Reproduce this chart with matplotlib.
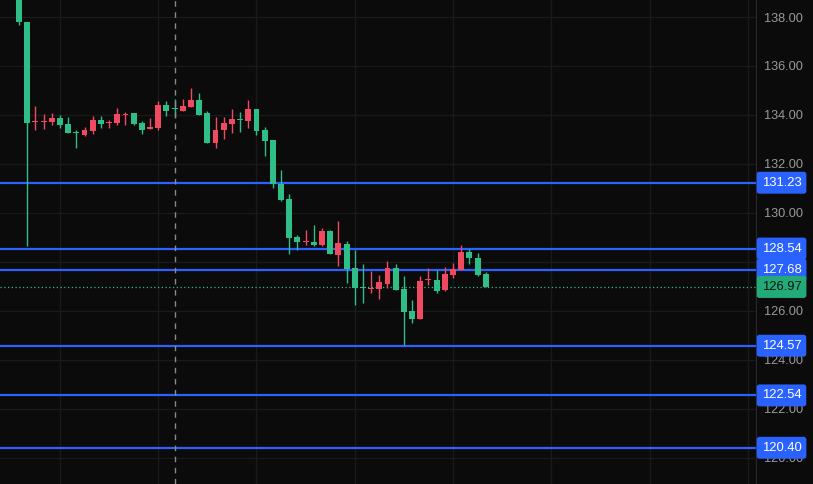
import numpy as np
import matplotlib
matplotlib.use("Agg")
import matplotlib.pyplot as plt

plt.rcParams['font.family'] = ['Liberation Sans', 'DejaVu Sans']

# OHLC candles
opens = [138.90, 137.80, 133.72, 133.72, 133.69, 133.86, 133.61, 133.29, 133.16, 133.33,
         133.78, 133.68, 133.68, 134.00, 134.06, 133.65, 133.41, 133.45, 134.39, 134.25,
         134.15, 134.31, 134.60, 134.07, 132.84, 133.37, 133.61, 133.80, 133.74, 134.23,
         133.37, 132.96, 131.16, 130.58, 129.02, 128.80, 128.82, 128.70, 129.27, 128.29,
         128.74, 127.75, 126.95, 126.87, 126.89, 127.10, 127.75, 126.89, 125.99, 125.66,
         127.24, 127.26, 126.85, 127.47, 127.67, 128.41, 128.16, 127.51]
highs = [139.20, 137.80, 134.35, 134.02, 134.07, 133.98, 133.90, 133.37, 133.49, 133.94,
         133.94, 133.78, 134.27, 134.10, 134.06, 133.74, 133.86, 134.56, 134.56, 134.64,
         134.64, 135.09, 134.89, 134.15, 133.90, 133.90, 134.23, 134.10, 134.60, 134.23,
         133.49, 132.96, 131.73, 130.75, 129.11, 129.31, 129.52, 129.39, 129.31, 129.68,
         128.86, 128.49, 127.92, 127.63, 127.47, 128.04, 127.92, 127.43, 126.44, 127.43,
         127.75, 127.67, 127.80, 127.96, 128.70, 128.53, 128.37, 127.59]
lows = [137.68, 128.66, 133.37, 133.41, 133.57, 133.45, 133.25, 132.63, 133.12, 133.20,
        133.45, 133.45, 133.57, 133.60, 133.57, 133.20, 133.41, 133.37, 133.94, 133.86,
        134.15, 134.31, 133.98, 132.84, 132.63, 133.00, 133.25, 133.29, 133.45, 133.16,
        132.34, 131.03, 130.50, 128.33, 128.49, 128.70, 128.66, 128.66, 128.33, 127.84,
        127.14, 126.24, 126.32, 126.73, 126.48, 126.93, 126.85, 124.60, 125.50, 125.66,
        127.06, 126.73, 126.81, 127.34, 127.67, 127.92, 127.43, 126.97]
closes = [137.80, 133.66, 133.76, 133.76, 133.86, 133.57, 133.25, 133.25, 133.37, 133.78,
          133.61, 133.70, 134.02, 134.02, 133.61, 133.37, 133.49, 134.39, 134.15, 134.23,
          134.35, 134.60, 133.98, 132.84, 133.37, 133.66, 133.82, 133.78, 134.23, 133.33,
          132.92, 131.16, 130.54, 128.98, 128.82, 128.84, 128.70, 129.27, 128.33, 128.78,
          127.71, 126.93, 126.91, 126.91, 127.18, 127.75, 126.85, 125.95, 125.66, 127.22,
          127.26, 126.81, 127.51, 127.71, 128.41, 128.16, 127.47, 126.97]

# horizontal levels
levels = [131.23, 128.54, 127.68, 124.57, 122.54, 120.40]
last_price = 126.97
crosshair_idx = 19
price_ticks = [120, 122, 124, 126, 128, 130, 132, 134, 136, 138]
grid_idx = [5, 17, 29, 41, 53, 65, 77, 89]

up_col = "#f04a60"
down_col = "#2fbd88"
bg = "#0b0b0b"
blue = "#2962ff"

fig = plt.figure(figsize=(8.13, 4.84), dpi=100, facecolor=bg)
ax = fig.add_axes([0, 0, 756 / 813, 1])
ax.set_facecolor(bg)

x = np.arange(len(opens))
o = np.array(opens)
c = np.array(closes)
cols = [up_col if cc >= oo else down_col for oo, cc in zip(o, c)]
bottom = np.minimum(o, c)
height = np.maximum(np.abs(c - o), 0.04)

ax.vlines(x, lows, highs, colors=cols, linewidth=1, zorder=3)
ax.bar(x, height, bottom=bottom, width=0.72, color=cols, zorder=4, linewidth=0)

# grid
for gy in price_ticks:
    ax.axhline(gy, color="#1a1a1a", linewidth=1, zorder=0)
for gx in grid_idx:
    ax.axvline(gx, color="#1a1a1a", linewidth=1, zorder=0)

# levels
for lv in levels:
    ax.axhline(lv, color=blue, linewidth=1.6, zorder=2)

# last price dotted line
ax.axhline(last_price, color=down_col, linewidth=0.9, linestyle=(0, (1, 2)), zorder=2)

# crosshair
ax.axvline(crosshair_idx, color="#8a8a8a", linewidth=1, linestyle=(0, (4, 4)), zorder=5)

ax.set_xlim(-2.32, 90)
ax.set_ylim(118.92, 138.695)

ax.yaxis.tick_right()
ax.set_yticks(price_ticks)
ax.set_yticklabels([f"{t:.2f}" for t in price_ticks])
ax.tick_params(axis="y", length=0, pad=6, labelsize=9.2, labelcolor="#9a9a9a")
ax.set_xticks([])
for s in ["top", "bottom", "left"]:
    ax.spines[s].set_visible(False)
ax.spines["right"].set_color("#2a2a2a")

tr = ax.get_yaxis_transform()
box = dict(boxstyle="round,pad=0.38,rounding_size=0.2", ec="none")
for lv in levels:
    ax.text(1.0075, lv, f"{lv:.2f}", transform=tr, ha="left", va="center",
            fontsize=9.4, color="white", zorder=10, clip_on=False,
            bbox=dict(box, fc=blue))
ax.text(1.0075, last_price, f"{last_price:.2f}", transform=tr, ha="left", va="center",
        fontsize=9.4, color="#111111", zorder=10, clip_on=False,
        bbox=dict(box, fc="#22ab78"))

fig.savefig("out.png", dpi=100, facecolor=bg)
